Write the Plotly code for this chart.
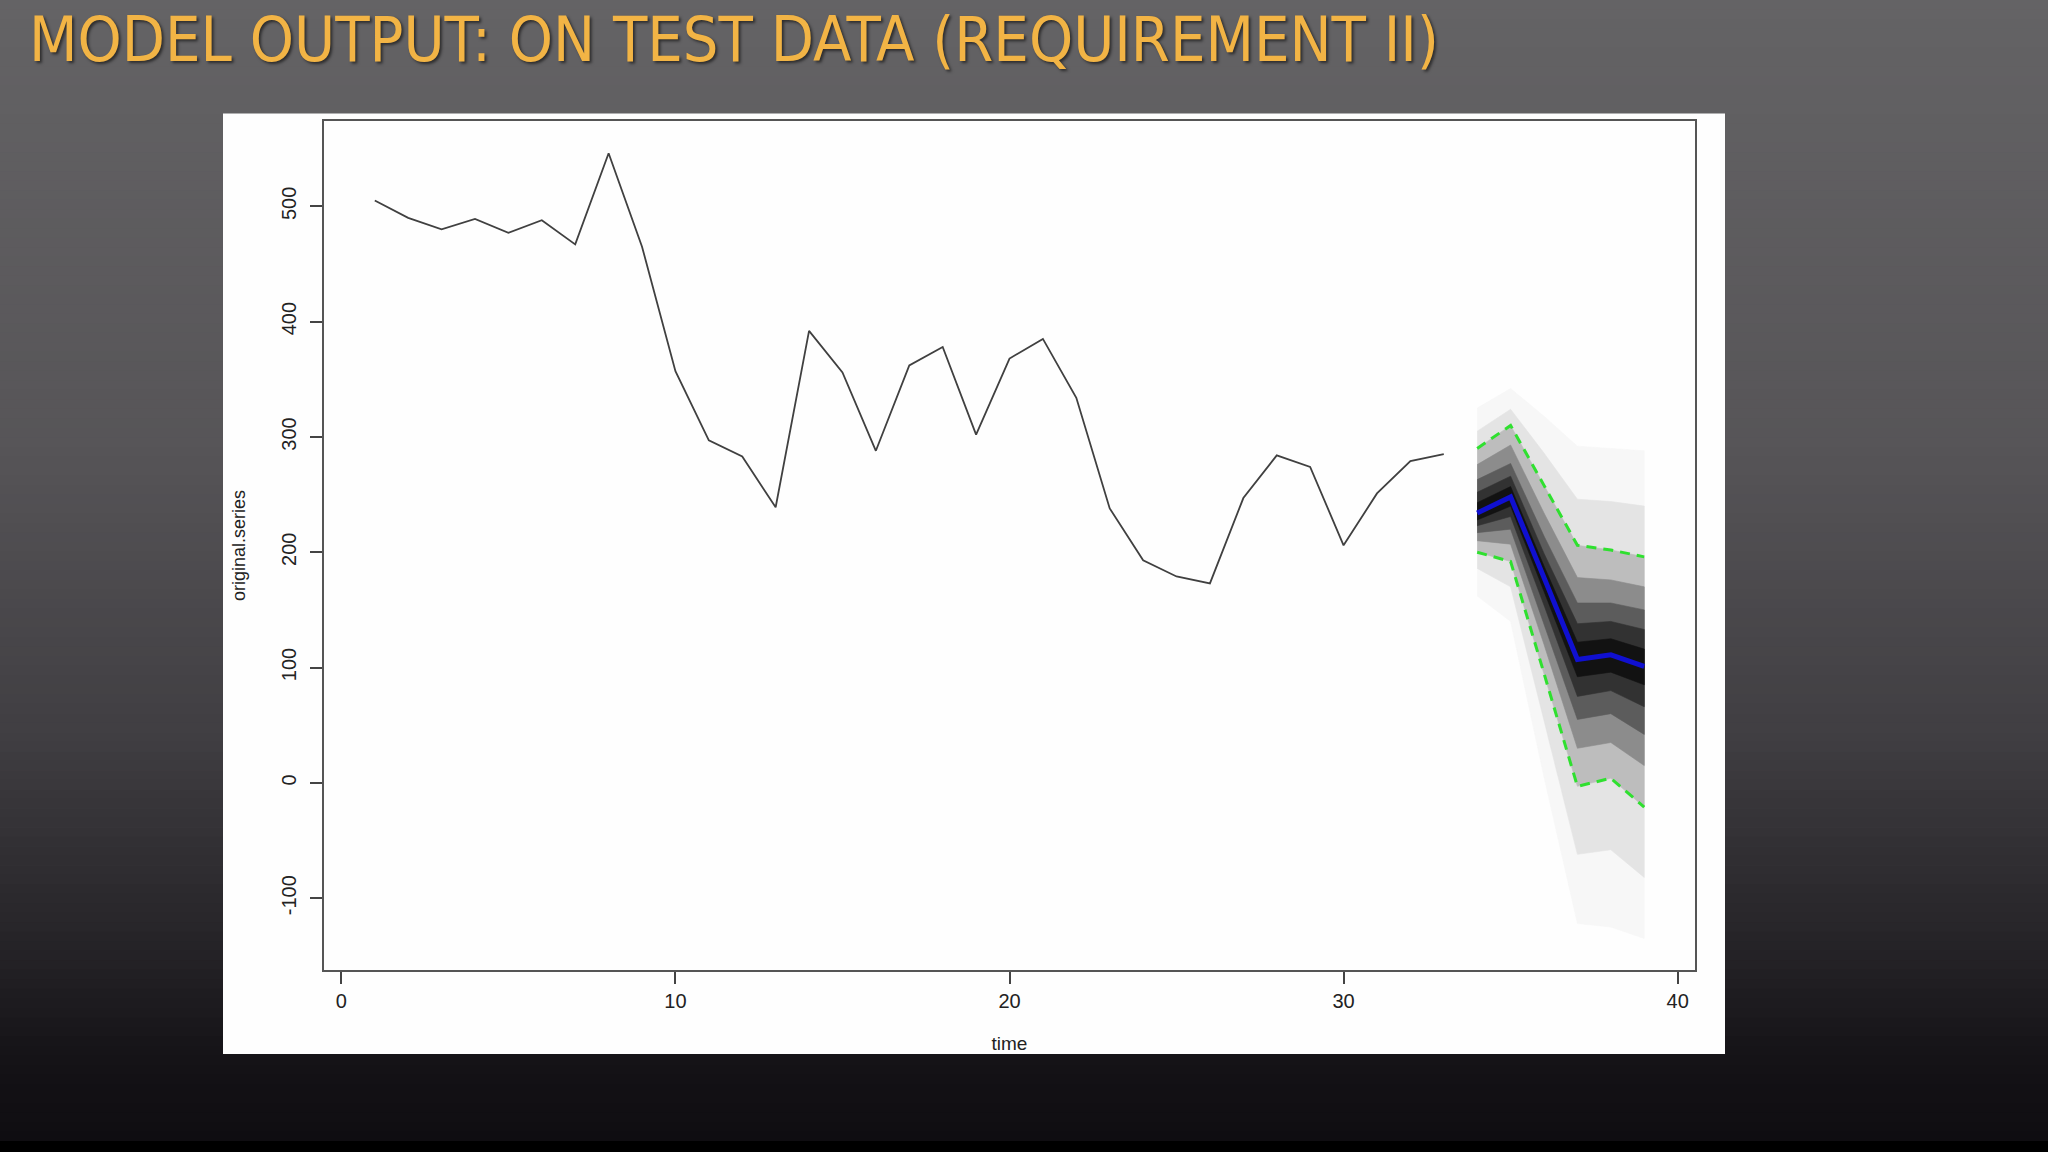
import plotly.graph_objects as go

# ---------------- data ----------------
time_obs = list(range(1, 34))
observed = [505, 490, 480, 489, 477, 488, 467, 546, 465, 357,
            297, 283, 239, 392, 356, 288, 362, 378, 302, 368,
            385, 334, 238, 193, 179, 173, 247, 284, 274, 206,
            251, 279, 285]

time_fc = [34, 35, 36, 37, 38, 39]
fc_mean = [234, 248, 178, 107, 111, 101]
green_upper = [290, 310, 258, 206, 202, 196]
green_lower = [200, 192, 95, -3, 4, -21]

# fan bands, outermost to innermost
fan_upper_1 = [325, 342, 318, 292, 290, 288]
fan_upper_2 = [305, 324, 286, 246, 244, 240]
fan_upper_3 = [290, 310, 258, 206, 202, 196]
fan_upper_4 = [276, 293, 234, 178, 176, 170]
fan_upper_5 = [263, 277, 214, 156, 156, 150]
fan_upper_6 = [252, 266, 199, 138, 140, 133]
fan_upper_7 = [243, 257, 188, 122, 125, 116]
fan_lower_1 = [162, 140, 5, -122, -125, -135]
fan_lower_2 = [186, 170, 55, -62, -58, -82]
fan_lower_3 = [200, 192, 95, -3, 4, -21]
fan_lower_4 = [210, 207, 120, 30, 35, 15]
fan_lower_5 = [217, 220, 138, 55, 60, 42]
fan_lower_6 = [223, 231, 154, 75, 80, 66]
fan_lower_7 = [228, 240, 166, 92, 96, 85]

x_ticks = [0, 10, 20, 30, 40]
y_ticks = [-100, 0, 100, 200, 300, 400, 500]

# ---------------- styling ----------------
W, H = 2048, 1152
FONT = "Liberation Sans, Arial, sans-serif"
fan_shades = ["#f7f7f7", "#e4e4e4", "#bdbdbd", "#8c8c8c", "#5c5c5c", "#323232", "#121212"]
fan_uppers = [fan_upper_1, fan_upper_2, fan_upper_3, fan_upper_4, fan_upper_5, fan_upper_6, fan_upper_7]
fan_lowers = [fan_lower_1, fan_lower_2, fan_lower_3, fan_lower_4, fan_lower_5, fan_lower_6, fan_lower_7]

fig = go.Figure()

for up, lo, col in zip(fan_uppers, fan_lowers, fan_shades):
    fig.add_trace(go.Scatter(
        x=time_fc + time_fc[::-1], y=up + lo[::-1],
        fill="toself", fillcolor=col, line=dict(width=0.6, color=col),
        mode="lines", hoverinfo="skip", showlegend=False))

fig.add_trace(go.Scatter(x=time_obs, y=observed, mode="lines",
                         line=dict(color="#404040", width=1.8), showlegend=False))
fig.add_trace(go.Scatter(x=time_fc, y=green_upper, mode="lines",
                         line=dict(color="#2fe02f", width=3, dash="10px,7px"), showlegend=False))
fig.add_trace(go.Scatter(x=time_fc, y=green_lower, mode="lines",
                         line=dict(color="#2fe02f", width=3, dash="10px,7px"), showlegend=False))
fig.add_trace(go.Scatter(x=time_fc, y=fc_mean, mode="lines",
                         line=dict(color="#1010d0", width=5), showlegend=False))

# background gradient (style only); margins are 0 so paper == whole page
stops = [(0, (100, 99, 101)), (440, (87, 85, 88)), (735, (64, 62, 66)),
         (955, (36, 34, 38)), (1065, (20, 18, 22)), (1141, (15, 13, 17))]
shapes = []
n = 120
for i in range(n):
    y0 = i * 1141 / n
    y1 = (i + 1) * 1141 / n
    ym = (y0 + y1) / 2
    for (a, ca), (b, cb) in zip(stops[:-1], stops[1:]):
        if a <= ym <= b:
            f = (ym - a) / (b - a)
            c = tuple(int(round(ca[k] + (cb[k] - ca[k]) * f)) for k in range(3))
            break
    shapes.append(dict(type="rect", xref="paper", yref="paper", layer="below",
                       x0=0, x1=1, y0=1 - (y1 + 0.6) / H, y1=1 - y0 / H,
                       line=dict(width=0), fillcolor="rgb(%d,%d,%d)" % c))
shapes.append(dict(type="rect", xref="paper", yref="paper", layer="below",
                   x0=0, x1=1, y0=0, y1=1 - 1141 / H, line=dict(width=0), fillcolor="#000000"))
# white panel holding the R plot
shapes.append(dict(type="rect", xref="paper", yref="paper", layer="below",
                   x0=223 / W, x1=1725 / W, y0=1 - 1054 / H, y1=1 - 113.6 / H,
                   line=dict(width=0), fillcolor="#fefefe"))

axis_common = dict(showgrid=False, zeroline=False, showline=True, linecolor="#555555",
                   linewidth=2, mirror=True, ticks="outside", ticklen=12, tickwidth=1.5,
                   tickcolor="#444444", tickfont=dict(family=FONT, size=20, color="#222222"))

fig.update_layout(
    width=W, height=H,
    margin=dict(l=0, r=0, t=0, b=0, pad=0),
    paper_bgcolor="#5a585b", plot_bgcolor="rgba(0,0,0,0)",
    shapes=shapes,
    xaxis=dict(domain=[324 / W, 1695 / W], range=[-0.52, 40.52], tickvals=x_ticks,
               ticktext=[str(v) for v in x_ticks],
               title=dict(text="time", font=dict(family=FONT, size=19, color="#222222"), standoff=26),
               **axis_common),
    yaxis=dict(domain=[1 - 970 / H, 1 - 121 / H], range=[-162.3, 574], tickvals=y_ticks,
               ticktext=[str(v) for v in y_ticks],
               tickangle=-90, ticklabelstandoff=6,
               title=dict(text="original.series", font=dict(family=FONT, size=18, color="#222222"), standoff=28),
               **axis_common),
    annotations=[dict(
        text="MODEL OUTPUT: ON TEST DATA (REQUIREMENT II)",
        xref="paper", yref="paper", x=27 / W, y=1 - 40 / H, xanchor="left", yanchor="middle",
        showarrow=False,
        font=dict(family="Liberation Sans Narrow, Arial Narrow, DejaVu Sans Condensed, Liberation Sans",
                  size=62.5, color="#F2B445", shadow="2px 2px 3px rgba(0,0,0,0.55)"))],
)

fig.write_html("out.html", config={"displayModeBar": False},
               post_script="document.body.style.margin='0';")
